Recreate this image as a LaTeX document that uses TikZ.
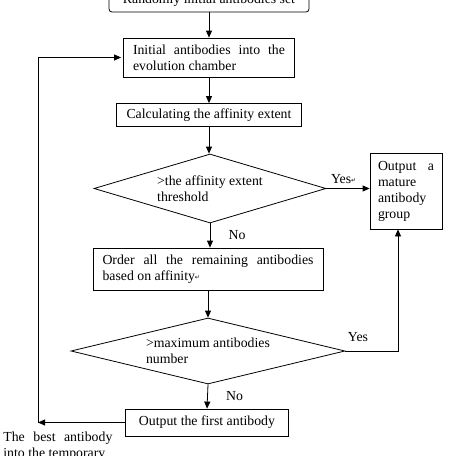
\documentclass[tikz,border=0pt]{standalone}
\usepackage{fontspec}
\setmainfont{Liberation Serif}
\newfontfamily\markfont{DejaVu Sans}
\usetikzlibrary{shapes.geometric,arrows.meta}
\newcommand{\pmark}{{\markfont\fontsize{6}{6}\selectfont\raisebox{0.3ex}{↵}}}

\begin{document}
\begin{tikzpicture}[x=1pt, y=-1pt, line width=0.8pt,
  every node/.style={font=\fontsize{13.8}{16}\selectfont},
  box/.style={draw, rectangle, inner xsep=9.5pt, inner ysep=2pt},
  cond/.style={draw, diamond, aspect=3.4, inner sep=0pt, align=left},
  arr/.style={-{Triangle[length=7pt,width=6pt]}}]
  \useasboundingbox (0,0) rectangle (456,456);

  % Main column
  \node[box, rounded corners=3pt, minimum width=200pt, minimum height=24pt] (init) at (209,0) {Randomly initial antibodies set};
  \node[box, text width=152pt, align=justify, minimum height=39pt] (chamber) at (209,57.5) {Initial antibodies into the evolution chamber};
  \node[box, minimum width=185pt, minimum height=23pt] (calc) at (209,115) {Calculating the affinity extent};
  \node[cond, minimum width=232pt, minimum height=69pt] (d1) at (210,188.5) {>the affinity extent\\threshold};
  \node[box, text width=211pt, align=justify, minimum height=42pt] (order) at (208,269) {Order all the remaining antibodies based on affinity\pmark};
  \node[cond, minimum width=274pt, minimum height=66pt] (d2) at (208,351) {>maximum antibodies\\number};
  \node[box, minimum width=163pt, minimum height=27pt] (first) at (207,422.5) {Output the first antibody};

  % Side boxes
  \node[box, text width=56pt, inner xsep=8pt, align=left, minimum height=76pt] (out) at (406,191) {Output\hfill a\\mature\\antibody\\group};
  \node[text width=109pt, align=justify, anchor=north west, inner sep=0pt] (note) at (3,432) {The best antibody into the temporary};

  % Flow
  \draw[arr] (init) -- (chamber);
  \draw[arr] (chamber) -- (calc);
  \draw[arr] (calc.south) -- (calc.south |- d1.north);
  \draw[arr] (d1.south) -- (d1.south |- order.north) node[midway, right=15pt] {No};
  \draw[arr] (order.south) -- (order.south |- d2.north);
  \draw[arr] (d2.south) -- (first.north) node[midway, right=15pt] {No};
  \draw[arr] (d1.east) -- (d1.east -| out.west) node[pos=0.4, above=1pt] {Yes\pmark};
  \draw[arr] (d2.east) -| ([xshift=-8pt]out.south) node[pos=0.12, above=6pt] {Yes};

  % Loop back
  \coordinate (lp) at (38,422);
  \draw[arr] (first) -- (first -| lp);
  \draw[arr, shorten >=2pt] (first -| lp) |- (chamber);
\end{tikzpicture}
\end{document}
